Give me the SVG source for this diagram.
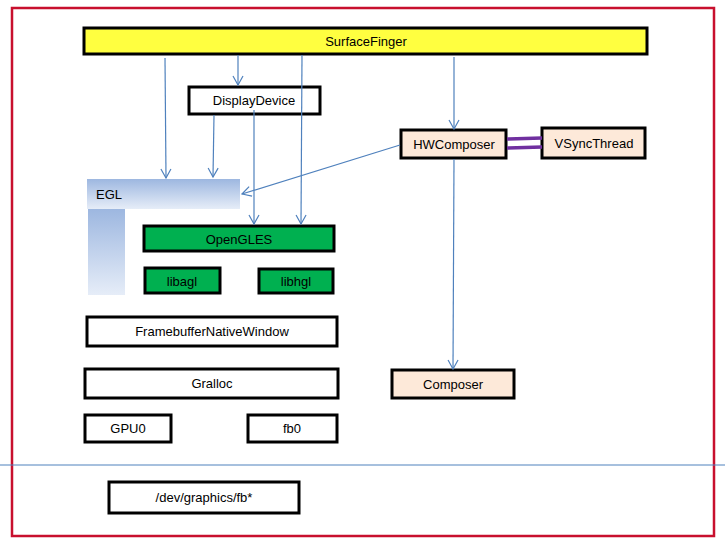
<svg xmlns="http://www.w3.org/2000/svg" width="725" height="549" viewBox="0 0 725 549">
<style>
.b{stroke:#000;stroke-width:3;fill:#fff}
.t{font-family:"Liberation Sans",Arial,sans-serif;font-size:13px;text-anchor:middle;fill:#000}
.c{stroke:#4F81BD;stroke-width:1.2;fill:none;marker-end:url(#a)}
</style>
<defs>
<marker id="a" markerWidth="12" markerHeight="12" refX="10" refY="6" orient="auto" markerUnits="userSpaceOnUse"><path d="M1,1 L10,6 L1,11" fill="none" stroke="#4F81BD" stroke-width="1.2"/></marker>
<linearGradient id="g" x1="0" y1="0" x2="0" y2="1"><stop offset="0" stop-color="#9DB7E0"/><stop offset="1" stop-color="#E6EDF8"/></linearGradient>
</defs>
<rect x="0" y="0" width="725" height="549" fill="#fff"/>
<rect x="12" y="8" width="702" height="528" fill="none" stroke="#C8102E" stroke-width="2.5"/>
<line x1="0" y1="465" x2="725" y2="465" stroke="#4F81BD" stroke-width="1"/>
<g id="SurfaceFinger"><rect class="b" x="84" y="28" width="563" height="26" fill="#FFFF40" style="fill:#FFFF40"/><text class="t" x="366" y="46">SurfaceFinger</text></g>
<g id="DisplayDevice"><rect class="b" x="189" y="87" width="131" height="27"/><text class="t" x="254" y="105">DisplayDevice</text></g>
<g id="HWComposer"><rect class="b" x="401" y="130" width="105" height="28" style="fill:#FDE9D9"/><text class="t" x="454" y="149">HWComposer</text></g>
<g id="VSyncThread"><rect class="b" x="542" y="128" width="103" height="30" style="fill:#FDE9D9"/><text class="t" x="594" y="148">VSyncThread</text></g>
<g id="EGL"><rect x="87" y="179" width="153" height="30" fill="url(#g)"/><rect x="88" y="209" width="37" height="86" fill="url(#g)"/><text class="t" x="109" y="199">EGL</text></g>
<g id="OpenGLES"><rect class="b" x="144" y="226" width="190" height="25" style="fill:#00B050"/><text class="t" x="239" y="244">OpenGLES</text></g>
<g id="libagl"><rect class="b" x="145" y="268" width="75" height="25" style="fill:#00B050"/><text class="t" x="182" y="286">libagl</text></g>
<g id="libhgl"><rect class="b" x="259" y="269" width="74" height="24" style="fill:#00B050"/><text class="t" x="296" y="286">libhgl</text></g>
<g id="FramebufferNativeWindow"><rect class="b" x="87" y="317" width="250" height="29"/><text class="t" x="212" y="336">FramebufferNativeWindow</text></g>
<g id="Gralloc"><rect class="b" x="85" y="369" width="253" height="29"/><text class="t" x="212" y="388">Gralloc</text></g>
<g id="Composer"><rect class="b" x="392" y="370" width="122" height="28" style="fill:#FDE9D9"/><text class="t" x="453" y="389">Composer</text></g>
<g id="GPU0"><rect class="b" x="85" y="415" width="86" height="27"/><text class="t" x="128" y="433">GPU0</text></g>
<g id="fb0"><rect class="b" x="248" y="415" width="89" height="27"/><text class="t" x="292" y="433">fb0</text></g>
<g id="devfb"><rect class="b" x="109" y="482" width="190" height="31"/><text class="t" x="204" y="502">/dev/graphics/fb*</text></g>
<g id="connectors">
<path class="c" d="M165,58 L166,178"/>
<path class="c" d="M238,55 L238,85"/>
<path class="c" d="M214,115 L213,177"/>
<path class="c" d="M254,110 L254,224"/>
<path class="c" d="M302,55 L301,224"/>
<path class="c" d="M454,57 L454,129"/>
<path class="c" d="M400,145 L242,194"/>
<path class="c" d="M454,159 L453,369"/>
<line x1="507" y1="139" x2="542" y2="138" stroke="#7030A0" stroke-width="3.5"/>
<line x1="507" y1="148" x2="542" y2="147" stroke="#7030A0" stroke-width="3.5"/>
</g>
</svg>
